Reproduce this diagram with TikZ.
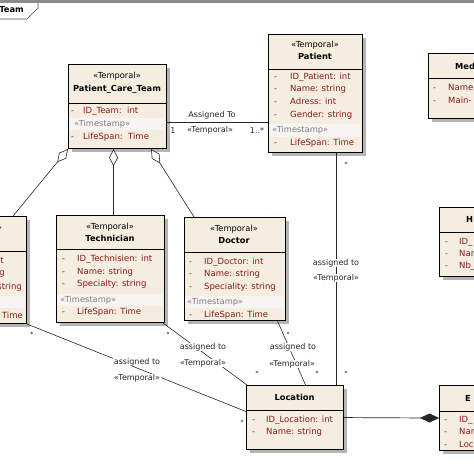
\documentclass[tikz,border=0pt]{standalone}
\usepackage{fontspec}
\setmainfont{DejaVu Sans}
\usetikzlibrary{arrows.meta,shadows,calc}
\definecolor{boxfill}{RGB}{244,237,224}
\definecolor{bandfill}{RGB}{247,245,241}
\definecolor{attr}{RGB}{135,25,25}
\definecolor{stereo}{RGB}{125,125,125}
\definecolor{shadowc}{RGB}{180,180,180}
\definecolor{framec}{RGB}{140,140,140}
\tikzset{
 classbox/.style={draw=black, line width=1.1pt, fill=boxfill, anchor=north west, inner sep=0pt,
   drop shadow={shadow xshift=3pt, shadow yshift=-3pt, fill=shadowc, opacity=1}},
 classtitle/.style={font=\fontsize{8.3}{9}\selectfont\bfseries, inner sep=0pt, anchor=mid},
 stereotype/.style={font=\fontsize{8.3}{9}\selectfont, inner sep=0pt, anchor=mid},
 attrtext/.style={font=\fontsize{8.5}{9}\selectfont, text=attr, anchor=mid west, inner sep=0pt},
 dashmark/.style={font=\fontsize{8}{9}\selectfont, text=black!80, anchor=mid west, inner sep=0pt},
 tslabel/.style={font=\fontsize{8.3}{9}\selectfont, text=stereo, anchor=mid west, inner sep=0pt},
 divider/.style={line width=0.9pt},
 assoc/.style={line width=0.6pt, draw=black!85},
 agg/.style={line width=0.6pt, draw=black!85, {Diamond[open, length=17pt, width=9pt, fill=white]}-},
 comp/.style={line width=0.7pt, draw=black!85, -{Diamond[length=19pt, width=9pt]}},
 lbl/.style={font=\fontsize{8}{9}\selectfont, fill=white, inner sep=0.6pt, text=black!85},
 mult/.style={font=\fontsize{6}{6}\selectfont, inner sep=0pt},
}
\newcommand{\umlrow}[5]{%
 \node[dashmark] (#1d) at (#2,#4) {-};
 \node[attrtext] (#1) at (#3,#4) {#5};}
\begin{document}
\begin{tikzpicture}[x=1pt,y=-1pt]
\useasboundingbox (0,0) rectangle (474,474);
\clip (0,0) rectangle (474,474);

% frame
\fill[framec] (0,0) rectangle (474,3);
\draw[line width=0.6pt, black!70] (0,19) -- (27,19) -- (38,8) -- (38,3);
\node[classtitle, anchor=mid east] (frametab) at (24,10) {Team};

% Patient_Care_Team
\node[classbox, minimum width=98pt, minimum height=84pt] (pct) at (68,64) {};
\node[stereotype] (pcts) at (117,76) {«Temporal»};
\node[classtitle] (pctn) at (117,89) {Patient\_Care\_Team};
\draw[divider] (68,103) -- (166,103);
\umlrow{pcta}{71}{83}{111}{ID\_Team:\ \ int}
\fill[bandfill] (68.6,118) rectangle (165.4,130);
\node[tslabel] (pctt) at (74,124) {«Timestamp»};
\umlrow{pctb}{71}{83}{137}{LifeSpan:\ \ Time}

% Patient
\node[classbox, minimum width=94pt, minimum height=118pt] (patient) at (268,34) {};
\node[stereotype] (pats) at (315,45) {«Temporal»};
\node[classtitle] (patn) at (315,57) {Patient};
\draw[divider] (268,69) -- (362,69);
\umlrow{pata}{274}{290}{77}{ID\_Patient: int}
\umlrow{patb}{274}{290}{89}{Name: string}
\umlrow{patc}{274}{290}{102}{Adress: int}
\umlrow{patd}{274}{290}{115}{Gender: string}
\fill[bandfill] (268.6,124) rectangle (361.4,137);
\node[tslabel] (patt) at (272,130) {«Timestamp»};
\umlrow{pate}{274}{290}{143}{LifeSpan: Time}

% left class (cut off at the picture's edge)
\node[classbox, minimum width=96pt, minimum height=107pt] (nurse) at (-70,216) {};
\node[stereotype] (nurs) at (-22,228) {«Temporal»};
\draw[divider] (-70,251) -- (26,251);
\node[attrtext, anchor=mid east] (nura) at (4,261) {int};
\node[attrtext, anchor=mid east] (nurb) at (5,273) {string};
\node[attrtext, anchor=mid east] (nurc) at (22,287) {string};
\fill[bandfill] (-69,296) rectangle (25.4,308);
\node[attrtext, anchor=mid east] (nurd) at (23,316) {Time};

% Technician
\node[classbox, minimum width=108pt, minimum height=107pt] (technician) at (56,215) {};
\node[stereotype] (tecs) at (110,227) {«Temporal»};
\node[classtitle] (tecn) at (110,239) {Technician};
\draw[divider] (56,249) -- (164,249);
\umlrow{teca}{62}{77}{259}{ID\_Technisien: int}
\umlrow{tecb}{62}{77}{272}{Name: string}
\umlrow{tecc}{62}{77}{284}{Specialty: string}
\fill[bandfill] (56.6,294) rectangle (163.4,306);
\node[tslabel] (tect) at (60,300) {«Timestamp»};
\umlrow{tecd}{62}{77}{312}{LifeSpan: Time}

% Doctor
\node[classbox, minimum width=101pt, minimum height=103pt] (doctor) at (184,217) {};
\node[stereotype] (docs) at (234,229) {«Temporal»};
\node[classtitle] (docn) at (234,241) {Doctor};
\draw[divider] (184,252) -- (285,252);
\umlrow{doca}{189}{204}{262}{ID\_Doctor: int}
\umlrow{docb}{189}{204}{274}{Name: string}
\umlrow{docc}{189}{204}{287}{Speciality: string}
\fill[bandfill] (184.6,296) rectangle (284.4,308);
\node[tslabel] (doct) at (187,302) {«Timestamp»};
\umlrow{docd}{189}{204}{315}{LifeSpan: Time}

% Location
\node[classbox, minimum width=97pt, minimum height=64pt] (location) at (246,385) {};
\node[classtitle] (locn) at (294.5,398) {Location};
\draw[divider] (246,410) -- (343,410);
\umlrow{loca}{252}{266}{420}{ID\_Location: int}
\umlrow{locb}{252}{266}{432}{Name: string}

% E class (cut off)
\node[classbox, minimum width=80pt, minimum height=65pt] (ebox) at (439,385) {};
\node[classtitle, anchor=mid west] (eboxn) at (465,399) {E};
\draw[divider] (439,411) -- (519,411);
\umlrow{eboxa}{444}{459}{420}{ID\_}
\umlrow{eboxb}{444}{459}{432}{Nam}
\umlrow{eboxc}{444}{459}{445}{Loc}

% Medical class (cut off)
\node[classbox, minimum width=90pt, minimum height=65pt] (medical) at (428,53) {};
\node[classtitle, anchor=mid west] (medn) at (455,67) {Med};
\draw[divider] (428,78) -- (518,78);
\umlrow{meda}{433}{448}{88}{Name}
\umlrow{medb}{433}{448}{101}{Main-}

% H class (cut off)
\node[classbox, minimum width=80pt, minimum height=69pt] (hbox) at (439,207) {};
\node[classtitle, anchor=mid west] (hboxn) at (466,220) {H};
\draw[divider] (439,232) -- (519,232);
\umlrow{hboxa}{445}{459}{242}{ID\_}
\umlrow{hboxb}{445}{459}{254}{Nam}
\umlrow{hboxc}{445}{459}{266}{Nb\_}

% connectors
\draw[assoc] ([yshift=-16pt]pct.east) -- ([yshift=-29pt]patient.west);
\draw[assoc, line width=1.4pt] ([xshift=21pt]patient.south) -- ([xshift=41.5pt]location.north);
\draw[assoc] ([xshift=42.5pt]doctor.south) -- ([xshift=10.5pt]location.north);
\draw[assoc] ([xshift=-2pt]technician.south east) -- ([xshift=1pt]location.north west);
\draw[assoc] (nurse.south east) -- ([yshift=6pt]location.west);
\draw[comp] (location.east) -- (ebox.west);
\draw[agg] ([xshift=-4pt]pct.south) -- ([xshift=3pt]technician.north);
\draw[agg] ([xshift=-16pt]pct.south east) -- ([xshift=10pt]doctor.north west);
\draw[agg] (pct.south west) -- ([xshift=-14pt]nurse.north east);

% labels
\node[lbl] (l1a) at (212,115) {Assigned To};
\node[lbl] (l1b) at (210,130) {«Temporal»};
\node[lbl] (m1a) at (173,131) {1};
\node[lbl] (m1b) at (257,131) {1..*};
\node[lbl] (l2a) at (336,263) {assigned to};
\node[lbl] (l2b) at (336,278) {«Temporal»};
\node[lbl] (l3a) at (293,347) {assigned to};
\node[lbl] (l3b) at (292,364) {«Temporal»};
\node[lbl] (l4a) at (203,347) {assigned to};
\node[lbl] (l4b) at (203,363) {«Temporal»};
\node[lbl] (l5a) at (137,362) {assigned to};
\node[lbl] (l5b) at (137,378) {«Temporal»};

% multiplicities
\node[mult] (s1) at (346,164) {*};
\node[mult] (s2) at (346,373) {*};
\node[mult] (s3) at (317,373) {*};
\node[mult] (s4) at (288,334) {*};
\node[mult] (s5) at (257,373) {*};
\node[mult] (s6) at (168,334) {*};
\node[mult] (s7) at (32,334) {*};
\node[mult] (s8) at (242,422) {*};
\end{tikzpicture}
\end{document}
